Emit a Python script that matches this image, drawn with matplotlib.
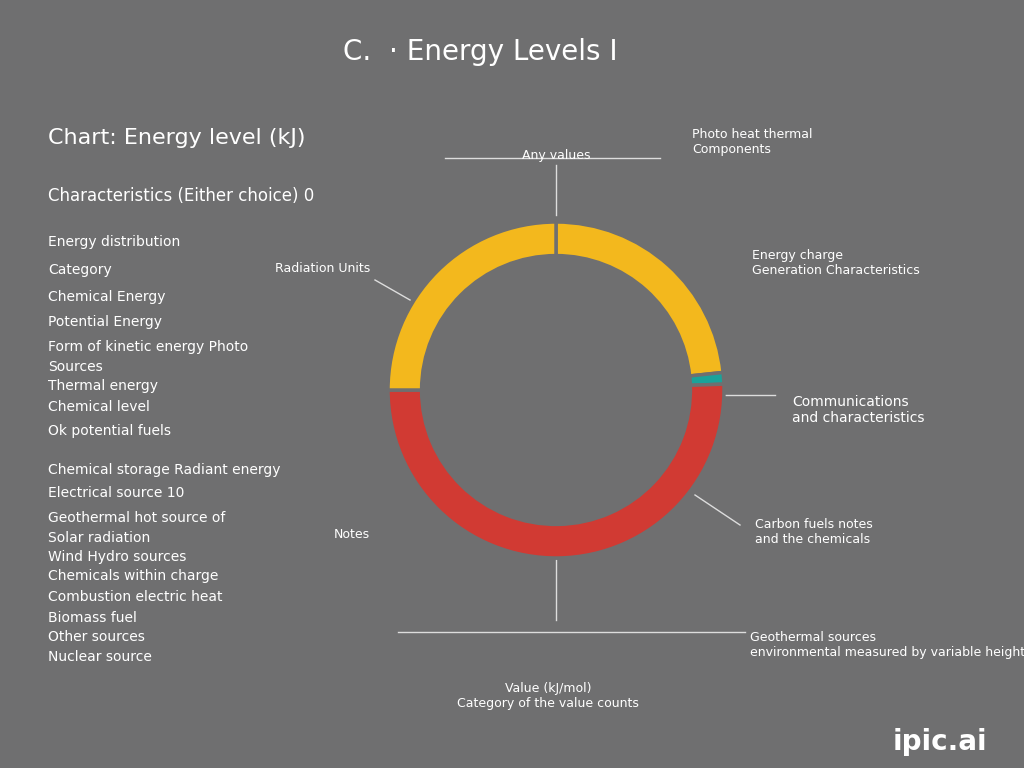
import matplotlib
matplotlib.use("Agg")
import matplotlib.pyplot as plt

labels = ["Yellow right", "Teal", "Red", "Yellow left"]
values = [84, 4, 182, 90]
colors = ["#f3b81d", "#1aa39a", "#d13a33", "#f3b81d"]

left_texts = ["Energy distribution", "Category", "Chemical Energy", "Potential Energy",
              "Form of kinetic energy Photo", "Sources", "Thermal energy", "Chemical level",
              "Ok potential fuels", "", "Chemical storage Radiant energy", "Electrical source 10",
              "Geothermal hot source of", "Solar radiation", "Wind Hydro sources", "Chemicals within charge",
              "Combustion electric heat", "Biomass fuel", "Other sources", "Nuclear source"]
left_y = [242, 270, 297, 322, 347, 367, 386, 407, 431, 0, 470, 493, 518, 538, 557, 576, 597, 618, 637, 657]

fig = plt.figure(figsize=(10.24, 7.68), dpi=100)
fig.patch.set_facecolor("#6f6f70")
ax = fig.add_axes([0, 0, 1, 1])
ax.set_xlim(0, 1024); ax.set_ylim(768, 0); ax.axis("off")

pax = fig.add_axes([(556-168)/1024, 1-(390+168)/768, 336/1024, 336/768])
pax.pie(values, colors=colors, startangle=90, counterclock=False,
        wedgeprops=dict(width=0.2, edgecolor="#6f6f70", linewidth=2.5))
pax.set_xlim(-1, 1); pax.set_ylim(-1, 1)
pax.set_aspect("equal")

ax.text(480, 52, "C.  · Energy Levels I", fontsize=20, color="white", ha="center", va="center")
ax.text(48, 138, "Chart: Energy level (kJ)", fontsize=16, color="white", va="center")
ax.text(48, 196, "Characteristics (Either choice) 0", fontsize=12, color="white", va="center")
for t, y in zip(left_texts, left_y):
    if t:
        ax.text(48, y, t, fontsize=10, color="white", va="center")

tc = "white"
ax.plot([445, 660], [158, 158], color="#dddddd", lw=1)
ax.plot([556, 556], [165, 215], color="#dddddd", lw=1)
ax.text(556, 155, "Any values", fontsize=9, color=tc, ha="center", va="center")
ax.text(692, 142, "Photo heat thermal\nComponents", fontsize=9, color=tc, va="center")
ax.text(323, 268, "Radiation Units", fontsize=9, color=tc, ha="center", va="center")
ax.plot([375, 410], [280, 300], color="#dddddd", lw=1)
ax.text(752, 263, "Energy charge\nGeneration Characteristics", fontsize=9, color=tc, va="center")
ax.plot([725, 775], [395, 395], color="#dddddd", lw=1)
ax.text(792, 410, "Communications\nand characteristics", fontsize=10, color=tc, va="center")
ax.plot([695, 740], [495, 525], color="#dddddd", lw=1)
ax.text(755, 532, "Carbon fuels notes\nand the chemicals", fontsize=9, color=tc, va="center")
ax.text(352, 535, "Notes", fontsize=9, color=tc, ha="center", va="center")
ax.plot([556, 556], [560, 620], color="#dddddd", lw=1)
ax.plot([398, 745], [632, 632], color="#dddddd", lw=1)
ax.text(750, 645, "Geothermal sources\nenvironmental measured by variable height", fontsize=9, color=tc, va="center")
ax.text(548, 696, "Value (kJ/mol)\nCategory of the value counts", fontsize=9, color=tc, ha="center", va="center")
ax.text(940, 742, "ipic.ai", fontsize=20, color="white", ha="center", va="center", fontweight="bold")

fig.savefig("out.png", dpi=100, facecolor=fig.get_facecolor())
